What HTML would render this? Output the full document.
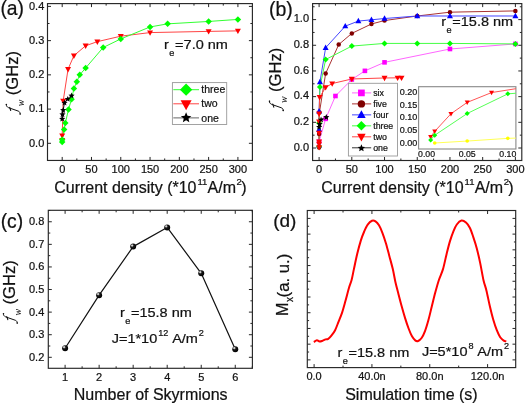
<!DOCTYPE html><html><head><meta charset="utf-8"><style>html,body{margin:0;padding:0;background:#fff;}body>svg{display:block;filter:blur(0.3px);}</style></head><body><svg width="525" height="404" viewBox="0 0 525 404" font-family="&quot;Liberation Sans&quot;, sans-serif">
<style>text{stroke:#111;stroke-width:0.22px;paint-order:stroke}</style>
<defs><radialGradient id="sph" cx="0.38" cy="0.36" r="0.62" fx="0.32" fy="0.3"><stop offset="0" stop-color="#fff"/><stop offset="0.18" stop-color="#bbb"/><stop offset="0.42" stop-color="#1a1a1a"/><stop offset="1" stop-color="#000"/></radialGradient></defs>
<rect width="525" height="404" fill="#fff"/>
<line x1="62.2" y1="160.45" x2="62.2" y2="156.95" stroke="#262626" stroke-width="1.0"/>
<line x1="62.2" y1="3.6" x2="62.2" y2="7.1" stroke="#262626" stroke-width="1.0"/>
<line x1="91.48" y1="160.45" x2="91.48" y2="156.95" stroke="#262626" stroke-width="1.0"/>
<line x1="91.48" y1="3.6" x2="91.48" y2="7.1" stroke="#262626" stroke-width="1.0"/>
<line x1="120.77" y1="160.45" x2="120.77" y2="156.95" stroke="#262626" stroke-width="1.0"/>
<line x1="120.77" y1="3.6" x2="120.77" y2="7.1" stroke="#262626" stroke-width="1.0"/>
<line x1="150.06" y1="160.45" x2="150.06" y2="156.95" stroke="#262626" stroke-width="1.0"/>
<line x1="150.06" y1="3.6" x2="150.06" y2="7.1" stroke="#262626" stroke-width="1.0"/>
<line x1="179.34" y1="160.45" x2="179.34" y2="156.95" stroke="#262626" stroke-width="1.0"/>
<line x1="179.34" y1="3.6" x2="179.34" y2="7.1" stroke="#262626" stroke-width="1.0"/>
<line x1="208.62" y1="160.45" x2="208.62" y2="156.95" stroke="#262626" stroke-width="1.0"/>
<line x1="208.62" y1="3.6" x2="208.62" y2="7.1" stroke="#262626" stroke-width="1.0"/>
<line x1="237.91" y1="160.45" x2="237.91" y2="156.95" stroke="#262626" stroke-width="1.0"/>
<line x1="237.91" y1="3.6" x2="237.91" y2="7.1" stroke="#262626" stroke-width="1.0"/>
<line x1="76.84" y1="160.45" x2="76.84" y2="158.45" stroke="#262626" stroke-width="1.0"/>
<line x1="76.84" y1="3.6" x2="76.84" y2="5.6" stroke="#262626" stroke-width="1.0"/>
<line x1="106.13" y1="160.45" x2="106.13" y2="158.45" stroke="#262626" stroke-width="1.0"/>
<line x1="106.13" y1="3.6" x2="106.13" y2="5.6" stroke="#262626" stroke-width="1.0"/>
<line x1="135.41" y1="160.45" x2="135.41" y2="158.45" stroke="#262626" stroke-width="1.0"/>
<line x1="135.41" y1="3.6" x2="135.41" y2="5.6" stroke="#262626" stroke-width="1.0"/>
<line x1="164.7" y1="160.45" x2="164.7" y2="158.45" stroke="#262626" stroke-width="1.0"/>
<line x1="164.7" y1="3.6" x2="164.7" y2="5.6" stroke="#262626" stroke-width="1.0"/>
<line x1="193.98" y1="160.45" x2="193.98" y2="158.45" stroke="#262626" stroke-width="1.0"/>
<line x1="193.98" y1="3.6" x2="193.98" y2="5.6" stroke="#262626" stroke-width="1.0"/>
<line x1="223.27" y1="160.45" x2="223.27" y2="158.45" stroke="#262626" stroke-width="1.0"/>
<line x1="223.27" y1="3.6" x2="223.27" y2="5.6" stroke="#262626" stroke-width="1.0"/>
<line x1="47.5" y1="143.3" x2="51" y2="143.3" stroke="#262626" stroke-width="1.0"/>
<line x1="252.4" y1="143.3" x2="248.9" y2="143.3" stroke="#262626" stroke-width="1.0"/>
<line x1="47.5" y1="109.08" x2="51" y2="109.08" stroke="#262626" stroke-width="1.0"/>
<line x1="252.4" y1="109.08" x2="248.9" y2="109.08" stroke="#262626" stroke-width="1.0"/>
<line x1="47.5" y1="74.85" x2="51" y2="74.85" stroke="#262626" stroke-width="1.0"/>
<line x1="252.4" y1="74.85" x2="248.9" y2="74.85" stroke="#262626" stroke-width="1.0"/>
<line x1="47.5" y1="40.63" x2="51" y2="40.63" stroke="#262626" stroke-width="1.0"/>
<line x1="252.4" y1="40.63" x2="248.9" y2="40.63" stroke="#262626" stroke-width="1.0"/>
<line x1="47.5" y1="6.4" x2="51" y2="6.4" stroke="#262626" stroke-width="1.0"/>
<line x1="252.4" y1="6.4" x2="248.9" y2="6.4" stroke="#262626" stroke-width="1.0"/>
<line x1="47.5" y1="126.19" x2="49.5" y2="126.19" stroke="#262626" stroke-width="1.0"/>
<line x1="252.4" y1="126.19" x2="250.4" y2="126.19" stroke="#262626" stroke-width="1.0"/>
<line x1="47.5" y1="91.96" x2="49.5" y2="91.96" stroke="#262626" stroke-width="1.0"/>
<line x1="252.4" y1="91.96" x2="250.4" y2="91.96" stroke="#262626" stroke-width="1.0"/>
<line x1="47.5" y1="57.74" x2="49.5" y2="57.74" stroke="#262626" stroke-width="1.0"/>
<line x1="252.4" y1="57.74" x2="250.4" y2="57.74" stroke="#262626" stroke-width="1.0"/>
<line x1="47.5" y1="23.51" x2="49.5" y2="23.51" stroke="#262626" stroke-width="1.0"/>
<line x1="252.4" y1="23.51" x2="250.4" y2="23.51" stroke="#262626" stroke-width="1.0"/>
<rect x="47.5" y="3.6" width="204.9" height="156.85" fill="none" stroke="#262626" stroke-width="1.15"/>
<text x="62.2" y="172.7" font-size="11" text-anchor="middle" fill="#111" >0</text>
<text x="91.48" y="172.7" font-size="11" text-anchor="middle" fill="#111" >50</text>
<text x="120.77" y="172.7" font-size="11" text-anchor="middle" fill="#111" >100</text>
<text x="150.06" y="172.7" font-size="11" text-anchor="middle" fill="#111" >150</text>
<text x="179.34" y="172.7" font-size="11" text-anchor="middle" fill="#111" >200</text>
<text x="208.62" y="172.7" font-size="11" text-anchor="middle" fill="#111" >250</text>
<text x="237.91" y="172.7" font-size="11" text-anchor="middle" fill="#111" >300</text>
<text x="44.3" y="146.7" font-size="11" text-anchor="end" fill="#111" >0.0</text>
<text x="44.3" y="112.48" font-size="11" text-anchor="end" fill="#111" >0.1</text>
<text x="44.3" y="78.25" font-size="11" text-anchor="end" fill="#111" >0.2</text>
<text x="44.3" y="44.03" font-size="11" text-anchor="end" fill="#111" >0.3</text>
<text x="44.3" y="9.8" font-size="11" text-anchor="end" fill="#111" >0.4</text>
<text x="0.4" y="14.8" font-size="19.3" text-anchor="start" fill="#111" >(a)</text>
<text x="54.2" y="193.4" font-size="16" text-anchor="start" fill="#111" >Current density (*10<tspan font-size="9.5" dy="-8.3" dx="1">11</tspan><tspan dy="8.3" dx="0.2">A/m</tspan><tspan font-size="9.5" dy="-8.3" dx="0.5">2</tspan><tspan dy="8.3" dx="-0.6">)</tspan></text>
<g transform="translate(0,0)">
<g transform="translate(18.3,115) rotate(-90)"><text x="19.8" y="0" font-size="16.6" fill="#111">(GHz)</text><text x="8.8" y="5.9" font-size="10" font-family="&quot;Liberation Serif&quot;, serif" font-style="italic" fill="#111" style="stroke:none">w</text></g>
<path d="M6.3,104.4 C6.1,105.9 7,107 8.6,107.7 L18.3,111.1 C19.6,111.6 20.2,112.6 20.2,114" fill="none" stroke="#111" stroke-width="1.0" stroke-linecap="round"/>
<path d="M9.7,107.4 L10.7,110.5" fill="none" stroke="#111" stroke-width="1.1" stroke-linecap="round"/>
<circle cx="6.4" cy="104.5" r="0.75" fill="#111"/><circle cx="20.1" cy="113.9" r="0.75" fill="#111"/>
</g>
<g transform="translate(164,48.8) scale(1.075,1)"><text x="0" y="0" font-size="13.5" fill="#111">r<tspan font-size="8.5" dy="7" dx="0.5">e</tspan><tspan dy="-7" dx="0.6">=7.0 nm</tspan></text></g>
<polyline points="62.2,140.22 62.2,135.6 63.2,100.86 68.06,69.17 73.91,55.68 85.63,45.76 97.34,41.65 120.77,36.18 150.06,32.58 208.62,31.38 237.91,30.87" fill="none" stroke="#f44" stroke-width="1" stroke-linejoin="round"/>
<polyline points="62.2,142.1 62.2,139.71 64.13,129.61 65.3,123.11 68.53,109.42 71.57,99.15 73.91,88.54 76.84,81.7 79.77,74.85 85.63,68.01 103.2,47.47 120.77,38.91 150.06,26.94 167.63,23.85 208.62,21.46 237.91,19.41" fill="none" stroke="#3f3" stroke-width="1" stroke-linejoin="round"/>
<polygon points="59.2,138.06 65.2,138.06 62.2,143.46" fill="#f00"/>
<polygon points="59.2,133.44 65.2,133.44 62.2,138.84" fill="#f00"/>
<polygon points="60.2,98.7 66.2,98.7 63.2,104.1" fill="#f00"/>
<polygon points="65.06,67.01 71.06,67.01 68.06,72.41" fill="#f00"/>
<polygon points="70.91,53.52 76.91,53.52 73.91,58.92" fill="#f00"/>
<polygon points="82.63,43.6 88.63,43.6 85.63,49" fill="#f00"/>
<polygon points="94.34,39.49 100.34,39.49 97.34,44.89" fill="#f00"/>
<polygon points="117.77,34.02 123.77,34.02 120.77,39.42" fill="#f00"/>
<polygon points="147.06,30.42 153.06,30.42 150.06,35.82" fill="#f00"/>
<polygon points="205.62,29.22 211.62,29.22 208.62,34.62" fill="#f00"/>
<polygon points="234.91,28.71 240.91,28.71 237.91,34.11" fill="#f00"/>
<polygon points="62.2,138.85 65.45,142.1 62.2,145.35 58.95,142.1" fill="#0f0"/>
<polygon points="62.2,136.46 65.45,139.71 62.2,142.96 58.95,139.71" fill="#0f0"/>
<polygon points="64.13,126.36 67.38,129.61 64.13,132.86 60.88,129.61" fill="#0f0"/>
<polygon points="65.3,119.86 68.55,123.11 65.3,126.36 62.05,123.11" fill="#0f0"/>
<polygon points="68.53,106.17 71.78,109.42 68.53,112.67 65.28,109.42" fill="#0f0"/>
<polygon points="71.57,95.9 74.82,99.15 71.57,102.4 68.32,99.15" fill="#0f0"/>
<polygon points="73.91,85.29 77.16,88.54 73.91,91.79 70.66,88.54" fill="#0f0"/>
<polygon points="76.84,78.45 80.09,81.7 76.84,84.95 73.59,81.7" fill="#0f0"/>
<polygon points="79.77,71.6 83.02,74.85 79.77,78.1 76.52,74.85" fill="#0f0"/>
<polygon points="85.63,64.76 88.88,68.01 85.63,71.26 82.38,68.01" fill="#0f0"/>
<polygon points="103.2,44.22 106.45,47.47 103.2,50.72 99.95,47.47" fill="#0f0"/>
<polygon points="120.77,35.66 124.02,38.91 120.77,42.16 117.52,38.91" fill="#0f0"/>
<polygon points="150.06,23.69 153.31,26.94 150.06,30.19 146.81,26.94" fill="#0f0"/>
<polygon points="167.63,20.6 170.88,23.85 167.63,27.1 164.38,23.85" fill="#0f0"/>
<polygon points="208.62,18.21 211.88,21.46 208.62,24.71 205.38,21.46" fill="#0f0"/>
<polygon points="237.91,16.16 241.16,19.41 237.91,22.66 234.66,19.41" fill="#0f0"/>
<polyline points="62.2,118.66 62.49,114.21 63.2,109.93 64.54,102.57 67.71,98.81 71.57,95.39" fill="none" stroke="#111" stroke-width="1" stroke-linejoin="round"/>
<polygon points="62.2,115.73 63.06,117.8 65.29,117.98 63.59,119.43 64.11,121.61 62.2,120.45 60.29,121.61 60.81,119.43 59.11,117.98 61.34,117.8" fill="#000"/>
<polygon points="62.49,111.28 63.35,113.35 65.58,113.53 63.88,114.99 64.4,117.16 62.49,116 60.58,117.16 61.1,114.99 59.4,113.53 61.63,113.35" fill="#000"/>
<polygon points="63.2,107.01 64.06,109.07 66.29,109.25 64.59,110.71 65.11,112.88 63.2,111.72 61.29,112.88 61.8,110.71 60.1,109.25 62.34,109.07" fill="#000"/>
<polygon points="64.54,99.65 65.4,101.71 67.63,101.89 65.93,103.35 66.45,105.53 64.54,104.36 62.63,105.53 63.15,103.35 61.45,101.89 63.68,101.71" fill="#000"/>
<polygon points="67.71,95.88 68.57,97.95 70.8,98.13 69.1,99.58 69.62,101.76 67.71,100.6 65.8,101.76 66.31,99.58 64.61,98.13 66.85,97.95" fill="#000"/>
<polygon points="71.57,92.46 72.43,94.53 74.66,94.71 72.96,96.16 73.48,98.34 71.57,97.17 69.66,98.34 70.18,96.16 68.48,94.71 70.71,94.53" fill="#000"/>
<rect x="172.4" y="82.6" width="54.3" height="41.9" fill="#fff" stroke="#999" stroke-width="0.9"/>
<line x1="173.3" y1="89.7" x2="199" y2="89.7" stroke="#3f3" stroke-width="1"/>
<polygon points="186.1,83.55 192.25,89.7 186.1,95.85 179.95,89.7" fill="#0f0"/>
<text x="201.3" y="93.35" font-size="10.5" text-anchor="start" fill="#111" >three</text>
<line x1="173.3" y1="103.8" x2="199" y2="103.8" stroke="#f44" stroke-width="1"/>
<polygon points="180.6,100.34 191.6,100.34 186.1,110.24" fill="#f00"/>
<text x="201.3" y="107.45" font-size="10.5" text-anchor="start" fill="#111" >two</text>
<line x1="173.3" y1="117.9" x2="199" y2="117.9" stroke="#666" stroke-width="1"/>
<polygon points="186.1,112.35 187.55,115.85 191.33,116.15 188.45,118.61 189.33,122.3 186.1,120.33 182.87,122.3 183.75,118.61 180.87,116.15 184.65,115.85" fill="#000"/>
<text x="201.3" y="121.55" font-size="10.5" text-anchor="start" fill="#111" >one</text>
<line x1="319.1" y1="160.5" x2="319.1" y2="157" stroke="#262626" stroke-width="1.0"/>
<line x1="319.1" y1="3.6" x2="319.1" y2="7.1" stroke="#262626" stroke-width="1.0"/>
<line x1="351.81" y1="160.5" x2="351.81" y2="157" stroke="#262626" stroke-width="1.0"/>
<line x1="351.81" y1="3.6" x2="351.81" y2="7.1" stroke="#262626" stroke-width="1.0"/>
<line x1="384.53" y1="160.5" x2="384.53" y2="157" stroke="#262626" stroke-width="1.0"/>
<line x1="384.53" y1="3.6" x2="384.53" y2="7.1" stroke="#262626" stroke-width="1.0"/>
<line x1="417.25" y1="160.5" x2="417.25" y2="157" stroke="#262626" stroke-width="1.0"/>
<line x1="417.25" y1="3.6" x2="417.25" y2="7.1" stroke="#262626" stroke-width="1.0"/>
<line x1="449.96" y1="160.5" x2="449.96" y2="157" stroke="#262626" stroke-width="1.0"/>
<line x1="449.96" y1="3.6" x2="449.96" y2="7.1" stroke="#262626" stroke-width="1.0"/>
<line x1="482.68" y1="160.5" x2="482.68" y2="157" stroke="#262626" stroke-width="1.0"/>
<line x1="482.68" y1="3.6" x2="482.68" y2="7.1" stroke="#262626" stroke-width="1.0"/>
<line x1="515.39" y1="160.5" x2="515.39" y2="157" stroke="#262626" stroke-width="1.0"/>
<line x1="515.39" y1="3.6" x2="515.39" y2="7.1" stroke="#262626" stroke-width="1.0"/>
<line x1="335.46" y1="160.5" x2="335.46" y2="158.5" stroke="#262626" stroke-width="1.0"/>
<line x1="335.46" y1="3.6" x2="335.46" y2="5.6" stroke="#262626" stroke-width="1.0"/>
<line x1="368.17" y1="160.5" x2="368.17" y2="158.5" stroke="#262626" stroke-width="1.0"/>
<line x1="368.17" y1="3.6" x2="368.17" y2="5.6" stroke="#262626" stroke-width="1.0"/>
<line x1="400.89" y1="160.5" x2="400.89" y2="158.5" stroke="#262626" stroke-width="1.0"/>
<line x1="400.89" y1="3.6" x2="400.89" y2="5.6" stroke="#262626" stroke-width="1.0"/>
<line x1="433.6" y1="160.5" x2="433.6" y2="158.5" stroke="#262626" stroke-width="1.0"/>
<line x1="433.6" y1="3.6" x2="433.6" y2="5.6" stroke="#262626" stroke-width="1.0"/>
<line x1="466.32" y1="160.5" x2="466.32" y2="158.5" stroke="#262626" stroke-width="1.0"/>
<line x1="466.32" y1="3.6" x2="466.32" y2="5.6" stroke="#262626" stroke-width="1.0"/>
<line x1="499.03" y1="160.5" x2="499.03" y2="158.5" stroke="#262626" stroke-width="1.0"/>
<line x1="499.03" y1="3.6" x2="499.03" y2="5.6" stroke="#262626" stroke-width="1.0"/>
<line x1="312.6" y1="148" x2="316.1" y2="148" stroke="#262626" stroke-width="1.0"/>
<line x1="521.8" y1="148" x2="518.3" y2="148" stroke="#262626" stroke-width="1.0"/>
<line x1="312.6" y1="122.32" x2="316.1" y2="122.32" stroke="#262626" stroke-width="1.0"/>
<line x1="521.8" y1="122.32" x2="518.3" y2="122.32" stroke="#262626" stroke-width="1.0"/>
<line x1="312.6" y1="96.64" x2="316.1" y2="96.64" stroke="#262626" stroke-width="1.0"/>
<line x1="521.8" y1="96.64" x2="518.3" y2="96.64" stroke="#262626" stroke-width="1.0"/>
<line x1="312.6" y1="70.96" x2="316.1" y2="70.96" stroke="#262626" stroke-width="1.0"/>
<line x1="521.8" y1="70.96" x2="518.3" y2="70.96" stroke="#262626" stroke-width="1.0"/>
<line x1="312.6" y1="45.28" x2="316.1" y2="45.28" stroke="#262626" stroke-width="1.0"/>
<line x1="521.8" y1="45.28" x2="518.3" y2="45.28" stroke="#262626" stroke-width="1.0"/>
<line x1="312.6" y1="19.6" x2="316.1" y2="19.6" stroke="#262626" stroke-width="1.0"/>
<line x1="521.8" y1="19.6" x2="518.3" y2="19.6" stroke="#262626" stroke-width="1.0"/>
<line x1="312.6" y1="135.16" x2="314.6" y2="135.16" stroke="#262626" stroke-width="1.0"/>
<line x1="521.8" y1="135.16" x2="519.8" y2="135.16" stroke="#262626" stroke-width="1.0"/>
<line x1="312.6" y1="109.48" x2="314.6" y2="109.48" stroke="#262626" stroke-width="1.0"/>
<line x1="521.8" y1="109.48" x2="519.8" y2="109.48" stroke="#262626" stroke-width="1.0"/>
<line x1="312.6" y1="83.8" x2="314.6" y2="83.8" stroke="#262626" stroke-width="1.0"/>
<line x1="521.8" y1="83.8" x2="519.8" y2="83.8" stroke="#262626" stroke-width="1.0"/>
<line x1="312.6" y1="58.12" x2="314.6" y2="58.12" stroke="#262626" stroke-width="1.0"/>
<line x1="521.8" y1="58.12" x2="519.8" y2="58.12" stroke="#262626" stroke-width="1.0"/>
<line x1="312.6" y1="32.44" x2="314.6" y2="32.44" stroke="#262626" stroke-width="1.0"/>
<line x1="521.8" y1="32.44" x2="519.8" y2="32.44" stroke="#262626" stroke-width="1.0"/>
<line x1="312.6" y1="6.76" x2="314.6" y2="6.76" stroke="#262626" stroke-width="1.0"/>
<line x1="521.8" y1="6.76" x2="519.8" y2="6.76" stroke="#262626" stroke-width="1.0"/>
<rect x="312.6" y="3.6" width="209.2" height="156.9" fill="none" stroke="#262626" stroke-width="1.15"/>
<text x="319.1" y="172.7" font-size="11" text-anchor="middle" fill="#111" >0</text>
<text x="351.81" y="172.7" font-size="11" text-anchor="middle" fill="#111" >50</text>
<text x="384.53" y="172.7" font-size="11" text-anchor="middle" fill="#111" >100</text>
<text x="417.25" y="172.7" font-size="11" text-anchor="middle" fill="#111" >150</text>
<text x="449.96" y="172.7" font-size="11" text-anchor="middle" fill="#111" >200</text>
<text x="482.68" y="172.7" font-size="11" text-anchor="middle" fill="#111" >250</text>
<text x="515.39" y="172.7" font-size="11" text-anchor="middle" fill="#111" >300</text>
<text x="309" y="150.7" font-size="11" text-anchor="end" fill="#111" >0.0</text>
<text x="309" y="125.02" font-size="11" text-anchor="end" fill="#111" >0.2</text>
<text x="309" y="99.34" font-size="11" text-anchor="end" fill="#111" >0.4</text>
<text x="309" y="73.66" font-size="11" text-anchor="end" fill="#111" >0.6</text>
<text x="309" y="47.98" font-size="11" text-anchor="end" fill="#111" >0.8</text>
<text x="309" y="22.3" font-size="11" text-anchor="end" fill="#111" >1.0</text>
<text x="269" y="16" font-size="19.5" text-anchor="start" fill="#111" >(b)</text>
<text x="321.3" y="193.4" font-size="16" text-anchor="start" fill="#111" >Current density (*10<tspan font-size="9.5" dy="-8.3" dx="1">11</tspan><tspan dy="8.3" dx="0.2">A/m</tspan><tspan font-size="9.5" dy="-8.3" dx="0.5">2</tspan><tspan dy="8.3" dx="-0.6">)</tspan></text>
<g transform="translate(263.1,-3.3)">
<g transform="translate(18.3,115) rotate(-90)"><text x="19.8" y="0" font-size="16.6" fill="#111">(GHz)</text><text x="8.8" y="5.9" font-size="10" font-family="&quot;Liberation Serif&quot;, serif" font-style="italic" fill="#111" style="stroke:none">w</text></g>
<path d="M6.3,104.4 C6.1,105.9 7,107 8.6,107.7 L18.3,111.1 C19.6,111.6 20.2,112.6 20.2,114" fill="none" stroke="#111" stroke-width="1.0" stroke-linecap="round"/>
<path d="M9.7,107.4 L10.7,110.5" fill="none" stroke="#111" stroke-width="1.1" stroke-linecap="round"/>
<circle cx="6.4" cy="104.5" r="0.75" fill="#111"/><circle cx="20.1" cy="113.9" r="0.75" fill="#111"/>
</g>
<g transform="translate(441.2,26.3) scale(1.075,1)"><text x="0" y="0" font-size="13.5" fill="#111">r<tspan font-size="8.5" dy="7" dx="0.5">e</tspan><tspan dy="-7" dx="0.6">=15.8 nm</tspan></text></g>
<polyline points="319.1,141.72 325.64,118.86 335.46,96 351.81,79.49 364.9,70.85 384.53,62.35 449.96,49.01 515.39,43.93" fill="none" stroke="#f6f" stroke-width="1" stroke-linejoin="round"/>
<polyline points="319.1,147.56 319.1,134.1 319.43,112.51 325.64,73.52 338.73,44.57 351.81,33.39 371.44,23.99 384.53,20.56 417.25,15.99 449.96,12.18 515.39,10.91" fill="none" stroke="#a33" stroke-width="1" stroke-linejoin="round"/>
<polyline points="319.1,145.28 319.1,129.66 319.1,111.24 319.95,82.03 325.64,47.74 345.27,26.15 358.36,21.07 371.44,19.8 384.53,18.53 417.25,15.99 449.96,15.99 515.39,15.99" fill="none" stroke="#44f" stroke-width="1" stroke-linejoin="round"/>
<polyline points="319.1,146.55 319.1,123.05 319.95,87.11 325.64,59.55 351.81,46.09 384.53,43.42 417.25,43.42 449.96,43.42 515.39,43.93" fill="none" stroke="#4f4" stroke-width="1" stroke-linejoin="round"/>
<polyline points="319.1,147.31 319.1,144.01 319.1,141.72 319.1,132.83 319.1,121.65 319.1,113.78 319.62,97.27 325.64,87.36 332.19,83.55 351.81,78.98 384.53,77.97 397.62,77.84 401.54,77.84" fill="none" stroke="#f44" stroke-width="1" stroke-linejoin="round"/>
<polyline points="319.1,126.73 319.62,123.94 321.06,119.5 326.3,116.96" fill="none" stroke="#222" stroke-width="1" stroke-linejoin="round"/>
<rect x="316.8" y="139.42" width="4.6" height="4.6" fill="#f0f"/>
<rect x="323.34" y="116.56" width="4.6" height="4.6" fill="#f0f"/>
<rect x="333.16" y="93.7" width="4.6" height="4.6" fill="#f0f"/>
<rect x="349.51" y="77.19" width="4.6" height="4.6" fill="#f0f"/>
<rect x="362.6" y="68.55" width="4.6" height="4.6" fill="#f0f"/>
<rect x="382.23" y="60.05" width="4.6" height="4.6" fill="#f0f"/>
<rect x="447.66" y="46.71" width="4.6" height="4.6" fill="#f0f"/>
<rect x="513.09" y="41.63" width="4.6" height="4.6" fill="#f0f"/>
<circle cx="319.1" cy="147.56" r="2.25" fill="#800000"/>
<circle cx="319.1" cy="134.1" r="2.25" fill="#800000"/>
<circle cx="319.43" cy="112.51" r="2.25" fill="#800000"/>
<circle cx="325.64" cy="73.52" r="2.25" fill="#800000"/>
<circle cx="338.73" cy="44.57" r="2.25" fill="#800000"/>
<circle cx="351.81" cy="33.39" r="2.25" fill="#800000"/>
<circle cx="371.44" cy="23.99" r="2.25" fill="#800000"/>
<circle cx="384.53" cy="20.56" r="2.25" fill="#800000"/>
<circle cx="417.25" cy="15.99" r="2.25" fill="#800000"/>
<circle cx="449.96" cy="12.18" r="2.25" fill="#800000"/>
<circle cx="515.39" cy="10.91" r="2.25" fill="#800000"/>
<polygon points="316.1,147.44 322.1,147.44 319.1,142.04" fill="#00f"/>
<polygon points="316.1,131.81 322.1,131.81 319.1,126.42" fill="#00f"/>
<polygon points="316.1,113.4 322.1,113.4 319.1,108" fill="#00f"/>
<polygon points="316.95,84.19 322.95,84.19 319.95,78.79" fill="#00f"/>
<polygon points="322.64,49.9 328.64,49.9 325.64,44.5" fill="#00f"/>
<polygon points="342.27,28.31 348.27,28.31 345.27,22.91" fill="#00f"/>
<polygon points="355.36,23.23 361.36,23.23 358.36,17.83" fill="#00f"/>
<polygon points="368.44,21.96 374.44,21.96 371.44,16.56" fill="#00f"/>
<polygon points="381.53,20.69 387.53,20.69 384.53,15.29" fill="#00f"/>
<polygon points="414.25,18.15 420.25,18.15 417.25,12.75" fill="#00f"/>
<polygon points="446.96,18.15 452.96,18.15 449.96,12.75" fill="#00f"/>
<polygon points="512.39,18.15 518.39,18.15 515.39,12.75" fill="#00f"/>
<polygon points="319.1,143.55 322.1,146.55 319.1,149.55 316.1,146.55" fill="#0f0"/>
<polygon points="319.1,120.05 322.1,123.05 319.1,126.05 316.1,123.05" fill="#0f0"/>
<polygon points="319.95,84.11 322.95,87.11 319.95,90.11 316.95,87.11" fill="#0f0"/>
<polygon points="325.64,56.55 328.64,59.55 325.64,62.55 322.64,59.55" fill="#0f0"/>
<polygon points="351.81,43.09 354.81,46.09 351.81,49.09 348.81,46.09" fill="#0f0"/>
<polygon points="384.53,40.42 387.53,43.42 384.53,46.42 381.53,43.42" fill="#0f0"/>
<polygon points="417.25,40.42 420.25,43.42 417.25,46.42 414.25,43.42" fill="#0f0"/>
<polygon points="449.96,40.42 452.96,43.42 449.96,46.42 446.96,43.42" fill="#0f0"/>
<polygon points="515.39,40.93 518.39,43.93 515.39,46.93 512.39,43.93" fill="#0f0"/>
<polygon points="316.1,145.15 322.1,145.15 319.1,150.55" fill="#f00"/>
<polygon points="316.1,141.85 322.1,141.85 319.1,147.25" fill="#f00"/>
<polygon points="316.1,139.56 322.1,139.56 319.1,144.96" fill="#f00"/>
<polygon points="316.1,130.67 322.1,130.67 319.1,136.07" fill="#f00"/>
<polygon points="316.1,119.49 322.1,119.49 319.1,124.89" fill="#f00"/>
<polygon points="316.1,111.62 322.1,111.62 319.1,117.02" fill="#f00"/>
<polygon points="316.62,95.11 322.62,95.11 319.62,100.51" fill="#f00"/>
<polygon points="322.64,85.2 328.64,85.2 325.64,90.6" fill="#f00"/>
<polygon points="329.19,81.39 335.19,81.39 332.19,86.79" fill="#f00"/>
<polygon points="348.81,76.82 354.81,76.82 351.81,82.22" fill="#f00"/>
<polygon points="381.53,75.81 387.53,75.81 384.53,81.21" fill="#f00"/>
<polygon points="394.62,75.68 400.62,75.68 397.62,81.08" fill="#f00"/>
<polygon points="398.54,75.68 404.54,75.68 401.54,81.08" fill="#f00"/>
<polygon points="319.1,123.81 319.96,125.88 322.19,126.05 320.49,127.51 321.01,129.69 319.1,128.52 317.19,129.69 317.71,127.51 316.01,126.05 318.24,125.88" fill="#000"/>
<polygon points="319.62,121.02 320.48,123.08 322.71,123.26 321.01,124.72 321.53,126.89 319.62,125.73 317.71,126.89 318.23,124.72 316.53,123.26 318.76,123.08" fill="#000"/>
<polygon points="321.06,116.57 321.92,118.64 324.15,118.82 322.45,120.27 322.97,122.45 321.06,121.28 319.15,122.45 319.67,120.27 317.97,118.82 320.2,118.64" fill="#000"/>
<polygon points="326.3,114.03 327.16,116.1 329.39,116.28 327.69,117.73 328.21,119.91 326.3,118.74 324.39,119.91 324.91,117.73 323.21,116.28 325.44,116.1" fill="#000"/>
<rect x="348.4" y="83.3" width="49.1" height="72.7" fill="#fff" stroke="#999" stroke-width="0.9"/>
<line x1="352" y1="92.9" x2="371.2" y2="92.9" stroke="#f6f" stroke-width="1"/>
<rect x="358.05" y="89.55" width="6.7" height="6.7" fill="#f0f"/>
<text x="373.2" y="96.2" font-size="8.8" text-anchor="start" fill="#111" >six</text>
<line x1="352" y1="103.88" x2="371.2" y2="103.88" stroke="#a33" stroke-width="1"/>
<circle cx="361.4" cy="103.88" r="3.7" fill="#800000"/>
<text x="373.2" y="107.18" font-size="8.8" text-anchor="start" fill="#111" >five</text>
<line x1="352" y1="114.86" x2="371.2" y2="114.86" stroke="#44f" stroke-width="1"/>
<polygon points="357.15,117.92 365.65,117.92 361.4,110.27" fill="#00f"/>
<text x="373.2" y="118.16" font-size="8.8" text-anchor="start" fill="#111" >four</text>
<line x1="352" y1="125.84" x2="371.2" y2="125.84" stroke="#4f4" stroke-width="1"/>
<polygon points="361.4,121.09 366.15,125.84 361.4,130.59 356.65,125.84" fill="#0f0"/>
<text x="373.2" y="129.14" font-size="8.8" text-anchor="start" fill="#111" >three</text>
<line x1="352" y1="136.82" x2="371.2" y2="136.82" stroke="#f44" stroke-width="1"/>
<polygon points="357.15,133.76 365.65,133.76 361.4,141.41" fill="#f00"/>
<text x="373.2" y="140.12" font-size="8.8" text-anchor="start" fill="#111" >two</text>
<line x1="352" y1="147.8" x2="371.2" y2="147.8" stroke="#333" stroke-width="1"/>
<polygon points="361.4,144.29 362.43,146.77 365.11,146.98 363.07,148.73 363.69,151.35 361.4,149.94 359.11,151.35 359.73,148.73 357.69,146.98 360.37,146.77" fill="#000"/>
<text x="373.2" y="151.1" font-size="8.8" text-anchor="start" fill="#111" >one</text>
<rect x="418.6" y="86.7" width="97.3" height="62.3" fill="#fff" stroke="#888" stroke-width="1.1"/>
<text x="417.3" y="146.3" font-size="9" text-anchor="end" fill="#111" textLength="17.6" lengthAdjust="spacingAndGlyphs">0.00</text>
<text x="417.3" y="133.37" font-size="9" text-anchor="end" fill="#111" textLength="17.6" lengthAdjust="spacingAndGlyphs">0.05</text>
<text x="417.3" y="120.44" font-size="9" text-anchor="end" fill="#111" textLength="17.6" lengthAdjust="spacingAndGlyphs">0.10</text>
<text x="417.3" y="107.51" font-size="9" text-anchor="end" fill="#111" textLength="17.6" lengthAdjust="spacingAndGlyphs">0.15</text>
<text x="417.3" y="94.58" font-size="9" text-anchor="end" fill="#111" textLength="17.6" lengthAdjust="spacingAndGlyphs">0.20</text>
<text x="426.6" y="157.1" font-size="9" text-anchor="middle" fill="#111" textLength="17" lengthAdjust="spacingAndGlyphs">0.00</text>
<text x="467.2" y="157.1" font-size="9" text-anchor="middle" fill="#111" textLength="17" lengthAdjust="spacingAndGlyphs">0.05</text>
<text x="507.8" y="157.1" font-size="9" text-anchor="middle" fill="#111" textLength="17" lengthAdjust="spacingAndGlyphs">0.10</text>
<svg x="418.6" y="86.7" width="97.3" height="62.3" overflow="hidden">
<polyline points="12.06,50.09 16.12,44.66 32.36,27.08 48.6,15.7 72.96,5.87 105.44,0.7" fill="none" stroke="#f55" stroke-width="1" stroke-linejoin="round"/>
<polyline points="12.06,53.2 16.12,48.54 48.6,26.82 89.2,7.17 105.44,5.87" fill="none" stroke="#5f5" stroke-width="1" stroke-linejoin="round"/>
<polyline points="16.12,56.3 48.6,54.36 89.2,51.65 105.44,51.13" fill="none" stroke="#ff5" stroke-width="1" stroke-linejoin="round"/>
<polygon points="9.56,48.29 14.56,48.29 12.06,52.79" fill="#f00"/>
<polygon points="13.62,42.86 18.62,42.86 16.12,47.36" fill="#f00"/>
<polygon points="29.86,25.28 34.86,25.28 32.36,29.78" fill="#f00"/>
<polygon points="46.1,13.9 51.1,13.9 48.6,18.4" fill="#f00"/>
<polygon points="70.46,4.07 75.46,4.07 72.96,8.57" fill="#f00"/>
<polygon points="12.06,50.7 14.56,53.2 12.06,55.7 9.56,53.2" fill="#0f0"/>
<polygon points="16.12,46.04 18.62,48.54 16.12,51.04 13.62,48.54" fill="#0f0"/>
<polygon points="48.6,24.32 51.1,26.82 48.6,29.32 46.1,26.82" fill="#0f0"/>
<polygon points="89.2,4.67 91.7,7.17 89.2,9.67 86.7,7.17" fill="#0f0"/>
<circle cx="16.12" cy="56.3" r="1.8" fill="#ff0"/>
<circle cx="48.6" cy="54.36" r="1.8" fill="#ff0"/>
<circle cx="89.2" cy="51.65" r="1.8" fill="#ff0"/>
</svg>
<line x1="65.1" y1="368.3" x2="65.1" y2="364.8" stroke="#262626" stroke-width="1.0"/>
<line x1="65.1" y1="210.3" x2="65.1" y2="213.8" stroke="#262626" stroke-width="1.0"/>
<line x1="99.13" y1="368.3" x2="99.13" y2="364.8" stroke="#262626" stroke-width="1.0"/>
<line x1="99.13" y1="210.3" x2="99.13" y2="213.8" stroke="#262626" stroke-width="1.0"/>
<line x1="133.16" y1="368.3" x2="133.16" y2="364.8" stroke="#262626" stroke-width="1.0"/>
<line x1="133.16" y1="210.3" x2="133.16" y2="213.8" stroke="#262626" stroke-width="1.0"/>
<line x1="167.19" y1="368.3" x2="167.19" y2="364.8" stroke="#262626" stroke-width="1.0"/>
<line x1="167.19" y1="210.3" x2="167.19" y2="213.8" stroke="#262626" stroke-width="1.0"/>
<line x1="201.22" y1="368.3" x2="201.22" y2="364.8" stroke="#262626" stroke-width="1.0"/>
<line x1="201.22" y1="210.3" x2="201.22" y2="213.8" stroke="#262626" stroke-width="1.0"/>
<line x1="235.25" y1="368.3" x2="235.25" y2="364.8" stroke="#262626" stroke-width="1.0"/>
<line x1="235.25" y1="210.3" x2="235.25" y2="213.8" stroke="#262626" stroke-width="1.0"/>
<line x1="82.11" y1="368.3" x2="82.11" y2="366.3" stroke="#262626" stroke-width="1.0"/>
<line x1="82.11" y1="210.3" x2="82.11" y2="212.3" stroke="#262626" stroke-width="1.0"/>
<line x1="116.14" y1="368.3" x2="116.14" y2="366.3" stroke="#262626" stroke-width="1.0"/>
<line x1="116.14" y1="210.3" x2="116.14" y2="212.3" stroke="#262626" stroke-width="1.0"/>
<line x1="150.18" y1="368.3" x2="150.18" y2="366.3" stroke="#262626" stroke-width="1.0"/>
<line x1="150.18" y1="210.3" x2="150.18" y2="212.3" stroke="#262626" stroke-width="1.0"/>
<line x1="184.2" y1="368.3" x2="184.2" y2="366.3" stroke="#262626" stroke-width="1.0"/>
<line x1="184.2" y1="210.3" x2="184.2" y2="212.3" stroke="#262626" stroke-width="1.0"/>
<line x1="218.23" y1="368.3" x2="218.23" y2="366.3" stroke="#262626" stroke-width="1.0"/>
<line x1="218.23" y1="210.3" x2="218.23" y2="212.3" stroke="#262626" stroke-width="1.0"/>
<line x1="252.27" y1="368.3" x2="252.27" y2="366.3" stroke="#262626" stroke-width="1.0"/>
<line x1="252.27" y1="210.3" x2="252.27" y2="212.3" stroke="#262626" stroke-width="1.0"/>
<line x1="48.3" y1="357.3" x2="51.8" y2="357.3" stroke="#262626" stroke-width="1.0"/>
<line x1="252.4" y1="357.3" x2="248.9" y2="357.3" stroke="#262626" stroke-width="1.0"/>
<line x1="48.3" y1="334.71" x2="51.8" y2="334.71" stroke="#262626" stroke-width="1.0"/>
<line x1="252.4" y1="334.71" x2="248.9" y2="334.71" stroke="#262626" stroke-width="1.0"/>
<line x1="48.3" y1="312.12" x2="51.8" y2="312.12" stroke="#262626" stroke-width="1.0"/>
<line x1="252.4" y1="312.12" x2="248.9" y2="312.12" stroke="#262626" stroke-width="1.0"/>
<line x1="48.3" y1="289.53" x2="51.8" y2="289.53" stroke="#262626" stroke-width="1.0"/>
<line x1="252.4" y1="289.53" x2="248.9" y2="289.53" stroke="#262626" stroke-width="1.0"/>
<line x1="48.3" y1="266.94" x2="51.8" y2="266.94" stroke="#262626" stroke-width="1.0"/>
<line x1="252.4" y1="266.94" x2="248.9" y2="266.94" stroke="#262626" stroke-width="1.0"/>
<line x1="48.3" y1="244.35" x2="51.8" y2="244.35" stroke="#262626" stroke-width="1.0"/>
<line x1="252.4" y1="244.35" x2="248.9" y2="244.35" stroke="#262626" stroke-width="1.0"/>
<line x1="48.3" y1="221.76" x2="51.8" y2="221.76" stroke="#262626" stroke-width="1.0"/>
<line x1="252.4" y1="221.76" x2="248.9" y2="221.76" stroke="#262626" stroke-width="1.0"/>
<line x1="48.3" y1="346" x2="50.3" y2="346" stroke="#262626" stroke-width="1.0"/>
<line x1="252.4" y1="346" x2="250.4" y2="346" stroke="#262626" stroke-width="1.0"/>
<line x1="48.3" y1="323.42" x2="50.3" y2="323.42" stroke="#262626" stroke-width="1.0"/>
<line x1="252.4" y1="323.42" x2="250.4" y2="323.42" stroke="#262626" stroke-width="1.0"/>
<line x1="48.3" y1="300.82" x2="50.3" y2="300.82" stroke="#262626" stroke-width="1.0"/>
<line x1="252.4" y1="300.82" x2="250.4" y2="300.82" stroke="#262626" stroke-width="1.0"/>
<line x1="48.3" y1="278.24" x2="50.3" y2="278.24" stroke="#262626" stroke-width="1.0"/>
<line x1="252.4" y1="278.24" x2="250.4" y2="278.24" stroke="#262626" stroke-width="1.0"/>
<line x1="48.3" y1="255.65" x2="50.3" y2="255.65" stroke="#262626" stroke-width="1.0"/>
<line x1="252.4" y1="255.65" x2="250.4" y2="255.65" stroke="#262626" stroke-width="1.0"/>
<line x1="48.3" y1="233.06" x2="50.3" y2="233.06" stroke="#262626" stroke-width="1.0"/>
<line x1="252.4" y1="233.06" x2="250.4" y2="233.06" stroke="#262626" stroke-width="1.0"/>
<line x1="48.3" y1="210.47" x2="50.3" y2="210.47" stroke="#262626" stroke-width="1.0"/>
<line x1="252.4" y1="210.47" x2="250.4" y2="210.47" stroke="#262626" stroke-width="1.0"/>
<rect x="48.3" y="210.3" width="204.1" height="158" fill="none" stroke="#262626" stroke-width="1.15"/>
<text x="65.1" y="381.3" font-size="11" text-anchor="middle" fill="#111" >1</text>
<text x="99.13" y="381.3" font-size="11" text-anchor="middle" fill="#111" >2</text>
<text x="133.16" y="381.3" font-size="11" text-anchor="middle" fill="#111" >3</text>
<text x="167.19" y="381.3" font-size="11" text-anchor="middle" fill="#111" >4</text>
<text x="201.22" y="381.3" font-size="11" text-anchor="middle" fill="#111" >5</text>
<text x="235.25" y="381.3" font-size="11" text-anchor="middle" fill="#111" >6</text>
<text x="44.3" y="360.8" font-size="11" text-anchor="end" fill="#111" >0.2</text>
<text x="44.3" y="338.21" font-size="11" text-anchor="end" fill="#111" >0.3</text>
<text x="44.3" y="315.62" font-size="11" text-anchor="end" fill="#111" >0.4</text>
<text x="44.3" y="293.03" font-size="11" text-anchor="end" fill="#111" >0.5</text>
<text x="44.3" y="270.44" font-size="11" text-anchor="end" fill="#111" >0.6</text>
<text x="44.3" y="247.85" font-size="11" text-anchor="end" fill="#111" >0.7</text>
<text x="44.3" y="225.26" font-size="11" text-anchor="end" fill="#111" >0.8</text>
<text x="0.7" y="227.9" font-size="19.3" text-anchor="start" fill="#111" >(c)</text>
<text x="73.8" y="399.8" font-size="16" text-anchor="start" fill="#111" >Number of Skyrmions</text>
<g transform="translate(-2.9,209.2)">
<g transform="translate(18.3,115) rotate(-90)"><text x="19.8" y="0" font-size="16.6" fill="#111">(GHz)</text><text x="8.8" y="5.9" font-size="10" font-family="&quot;Liberation Serif&quot;, serif" font-style="italic" fill="#111" style="stroke:none">w</text></g>
<path d="M6.3,104.4 C6.1,105.9 7,107 8.6,107.7 L18.3,111.1 C19.6,111.6 20.2,112.6 20.2,114" fill="none" stroke="#111" stroke-width="1.0" stroke-linecap="round"/>
<path d="M9.7,107.4 L10.7,110.5" fill="none" stroke="#111" stroke-width="1.1" stroke-linecap="round"/>
<circle cx="6.4" cy="104.5" r="0.75" fill="#111"/><circle cx="20.1" cy="113.9" r="0.75" fill="#111"/>
</g>
<g transform="translate(119.9,316.6) scale(1.075,1)"><text x="0" y="0" font-size="13.5" fill="#111">r<tspan font-size="8.5" dy="7" dx="0.5">e</tspan><tspan dy="-7" dx="0.6">=15.8 nm</tspan></text></g>
<g transform="translate(111.7,342.8) scale(1.075,1)"><text x="0" y="0" font-size="13.5" fill="#111">J=1*10<tspan font-size="8.5" dy="-6.8" dx="0.9">12</tspan><tspan dy="6.8" dx="0.5"> A/m</tspan><tspan font-size="8.5" dy="-6.8" dx="0.9">2</tspan></text></g>
<polyline points="65.1,348.26 99.13,295.18 133.16,246.61 167.19,227.41 201.22,273.27 235.25,349.17" fill="none" stroke="#111" stroke-width="1.2" stroke-linejoin="round"/>
<circle cx="65.1" cy="348.26" r="3" fill="url(#sph)"/>
<circle cx="99.13" cy="295.18" r="3" fill="url(#sph)"/>
<circle cx="133.16" cy="246.61" r="3" fill="url(#sph)"/>
<circle cx="167.19" cy="227.41" r="3" fill="url(#sph)"/>
<circle cx="201.22" cy="273.27" r="3" fill="url(#sph)"/>
<circle cx="235.25" cy="349.17" r="3" fill="url(#sph)"/>
<line x1="314.1" y1="367.6" x2="314.1" y2="364.1" stroke="#262626" stroke-width="1.0"/>
<line x1="314.1" y1="210.5" x2="314.1" y2="214" stroke="#262626" stroke-width="1.0"/>
<line x1="371.93" y1="367.6" x2="371.93" y2="364.1" stroke="#262626" stroke-width="1.0"/>
<line x1="371.93" y1="210.5" x2="371.93" y2="214" stroke="#262626" stroke-width="1.0"/>
<line x1="429.76" y1="367.6" x2="429.76" y2="364.1" stroke="#262626" stroke-width="1.0"/>
<line x1="429.76" y1="210.5" x2="429.76" y2="214" stroke="#262626" stroke-width="1.0"/>
<line x1="487.59" y1="367.6" x2="487.59" y2="364.1" stroke="#262626" stroke-width="1.0"/>
<line x1="487.59" y1="210.5" x2="487.59" y2="214" stroke="#262626" stroke-width="1.0"/>
<line x1="343.02" y1="367.6" x2="343.02" y2="365.6" stroke="#262626" stroke-width="1.0"/>
<line x1="343.02" y1="210.5" x2="343.02" y2="212.5" stroke="#262626" stroke-width="1.0"/>
<line x1="400.85" y1="367.6" x2="400.85" y2="365.6" stroke="#262626" stroke-width="1.0"/>
<line x1="400.85" y1="210.5" x2="400.85" y2="212.5" stroke="#262626" stroke-width="1.0"/>
<line x1="458.68" y1="367.6" x2="458.68" y2="365.6" stroke="#262626" stroke-width="1.0"/>
<line x1="458.68" y1="210.5" x2="458.68" y2="212.5" stroke="#262626" stroke-width="1.0"/>
<line x1="307.3" y1="218.4" x2="310.5" y2="218.4" stroke="#262626" stroke-width="1.0"/>
<line x1="515.7" y1="218.4" x2="512.5" y2="218.4" stroke="#262626" stroke-width="1.0"/>
<line x1="307.3" y1="234.12" x2="310.5" y2="234.12" stroke="#262626" stroke-width="1.0"/>
<line x1="515.7" y1="234.12" x2="512.5" y2="234.12" stroke="#262626" stroke-width="1.0"/>
<line x1="307.3" y1="249.84" x2="310.5" y2="249.84" stroke="#262626" stroke-width="1.0"/>
<line x1="515.7" y1="249.84" x2="512.5" y2="249.84" stroke="#262626" stroke-width="1.0"/>
<line x1="307.3" y1="265.56" x2="310.5" y2="265.56" stroke="#262626" stroke-width="1.0"/>
<line x1="515.7" y1="265.56" x2="512.5" y2="265.56" stroke="#262626" stroke-width="1.0"/>
<line x1="307.3" y1="281.28" x2="310.5" y2="281.28" stroke="#262626" stroke-width="1.0"/>
<line x1="515.7" y1="281.28" x2="512.5" y2="281.28" stroke="#262626" stroke-width="1.0"/>
<line x1="307.3" y1="297" x2="310.5" y2="297" stroke="#262626" stroke-width="1.0"/>
<line x1="515.7" y1="297" x2="512.5" y2="297" stroke="#262626" stroke-width="1.0"/>
<line x1="307.3" y1="312.72" x2="310.5" y2="312.72" stroke="#262626" stroke-width="1.0"/>
<line x1="515.7" y1="312.72" x2="512.5" y2="312.72" stroke="#262626" stroke-width="1.0"/>
<line x1="307.3" y1="328.44" x2="310.5" y2="328.44" stroke="#262626" stroke-width="1.0"/>
<line x1="515.7" y1="328.44" x2="512.5" y2="328.44" stroke="#262626" stroke-width="1.0"/>
<line x1="307.3" y1="344.16" x2="310.5" y2="344.16" stroke="#262626" stroke-width="1.0"/>
<line x1="515.7" y1="344.16" x2="512.5" y2="344.16" stroke="#262626" stroke-width="1.0"/>
<line x1="307.3" y1="359.88" x2="310.5" y2="359.88" stroke="#262626" stroke-width="1.0"/>
<line x1="515.7" y1="359.88" x2="512.5" y2="359.88" stroke="#262626" stroke-width="1.0"/>
<line x1="307.3" y1="226.26" x2="309.1" y2="226.26" stroke="#262626" stroke-width="1.0"/>
<line x1="515.7" y1="226.26" x2="513.9" y2="226.26" stroke="#262626" stroke-width="1.0"/>
<line x1="307.3" y1="241.98" x2="309.1" y2="241.98" stroke="#262626" stroke-width="1.0"/>
<line x1="515.7" y1="241.98" x2="513.9" y2="241.98" stroke="#262626" stroke-width="1.0"/>
<line x1="307.3" y1="257.7" x2="309.1" y2="257.7" stroke="#262626" stroke-width="1.0"/>
<line x1="515.7" y1="257.7" x2="513.9" y2="257.7" stroke="#262626" stroke-width="1.0"/>
<line x1="307.3" y1="273.42" x2="309.1" y2="273.42" stroke="#262626" stroke-width="1.0"/>
<line x1="515.7" y1="273.42" x2="513.9" y2="273.42" stroke="#262626" stroke-width="1.0"/>
<line x1="307.3" y1="289.14" x2="309.1" y2="289.14" stroke="#262626" stroke-width="1.0"/>
<line x1="515.7" y1="289.14" x2="513.9" y2="289.14" stroke="#262626" stroke-width="1.0"/>
<line x1="307.3" y1="304.86" x2="309.1" y2="304.86" stroke="#262626" stroke-width="1.0"/>
<line x1="515.7" y1="304.86" x2="513.9" y2="304.86" stroke="#262626" stroke-width="1.0"/>
<line x1="307.3" y1="320.58" x2="309.1" y2="320.58" stroke="#262626" stroke-width="1.0"/>
<line x1="515.7" y1="320.58" x2="513.9" y2="320.58" stroke="#262626" stroke-width="1.0"/>
<line x1="307.3" y1="336.3" x2="309.1" y2="336.3" stroke="#262626" stroke-width="1.0"/>
<line x1="515.7" y1="336.3" x2="513.9" y2="336.3" stroke="#262626" stroke-width="1.0"/>
<line x1="307.3" y1="352.02" x2="309.1" y2="352.02" stroke="#262626" stroke-width="1.0"/>
<line x1="515.7" y1="352.02" x2="513.9" y2="352.02" stroke="#262626" stroke-width="1.0"/>
<rect x="307.3" y="210.5" width="208.4" height="157.1" fill="none" stroke="#262626" stroke-width="1.15"/>
<text x="314.1" y="380" font-size="11" text-anchor="middle" fill="#111" >0.0</text>
<text x="371.93" y="380" font-size="11" text-anchor="middle" fill="#111" >40.0n</text>
<text x="429.76" y="380" font-size="11" text-anchor="middle" fill="#111" >80.0n</text>
<text x="487.59" y="380" font-size="11" text-anchor="middle" fill="#111" >120.0n</text>
<text x="273.2" y="227" font-size="19" text-anchor="start" fill="#111" >(d)</text>
<text x="345.2" y="399.9" font-size="16" text-anchor="start" fill="#111" >Simulation time (s)</text>
<g transform="translate(287.9,316) rotate(-90)"><text x="0" y="0" font-size="16" fill="#111">M<tspan font-size="10" dy="5" dx="0.8">x</tspan><tspan dy="-4.2" dx="-0.5" font-size="16.7">(a. u.)</tspan></text></g>
<g transform="translate(337.4,356.6) scale(1.075,1)"><text x="0" y="0" font-size="13.5" fill="#111">r<tspan font-size="8.5" dy="7" dx="0.5">e</tspan><tspan dy="-7" dx="0.6">=15.8 nm</tspan></text></g>
<g transform="translate(421.9,356.1) scale(1.075,1)"><text x="0" y="0" font-size="13.5" fill="#111">J=5*10<tspan font-size="8.5" dy="-6.8" dx="0.9">8</tspan><tspan dy="6.8" dx="0.5"> A/m</tspan><tspan font-size="8.5" dy="-6.8" dx="0.9">2</tspan></text></g>
<path d="M313.8,342 C314.32,341.72 315.95,340.38 316.9,340.3 C317.85,340.22 318.63,341.38 319.5,341.5 C320.37,341.62 321.08,341.35 322.1,341 C323.12,340.65 324.58,339.75 325.6,339.4 C326.62,339.05 327.2,339.57 328.2,338.9 C329.2,338.23 330.45,336.85 331.6,335.4 C332.75,333.95 333.93,332.5 335.1,330.2 C336.27,327.9 337.45,324.48 338.6,321.6 C339.75,318.72 340.85,316.37 342,312.9 C343.15,309.43 344.33,304.98 345.5,300.8 C346.67,296.62 347.98,291.27 349,287.8 C350.02,284.33 350.78,283.12 351.6,280 C352.42,276.88 352.95,273.5 353.9,269.1 C354.85,264.7 356.15,258.35 357.3,253.6 C358.45,248.85 359.65,244.28 360.8,240.6 C361.95,236.92 363.05,234.17 364.2,231.5 C365.35,228.83 366.4,226.38 367.7,224.6 C369,222.82 370.7,221.33 372,220.8 C373.3,220.27 374.33,220.65 375.5,221.4 C376.67,222.15 377.85,223.4 379,225.3 C380.15,227.2 381.25,229.82 382.4,232.8 C383.55,235.78 384.73,239.3 385.9,243.2 C387.07,247.1 388.25,251.88 389.4,256.2 C390.55,260.52 391.8,264.8 392.8,269.1 C393.8,273.4 394.5,278.02 395.4,282 C396.3,285.98 397.17,289 398.2,293 C399.23,297 400.45,301.82 401.6,306 C402.75,310.18 403.93,314.35 405.1,318.1 C406.27,321.85 407.45,325.47 408.6,328.5 C409.75,331.53 410.85,334.28 412,336.3 C413.15,338.32 414.48,339.82 415.5,340.6 C416.52,341.38 417.08,341.43 418.1,341 C419.12,340.57 420.45,339.65 421.6,338 C422.75,336.35 423.85,334.13 425,331.1 C426.15,328.07 427.35,323.98 428.5,319.8 C429.65,315.62 430.75,310.62 431.9,306 C433.05,301.38 434.23,296.43 435.4,292.1 C436.57,287.77 437.63,283.83 438.9,280 C440.17,276.17 441.73,273.37 443,269.1 C444.27,264.83 445.35,259.02 446.5,254.4 C447.65,249.78 448.75,245.25 449.9,241.4 C451.05,237.55 452.25,234.12 453.4,231.3 C454.55,228.48 455.45,226.28 456.8,224.5 C458.15,222.72 459.97,220.92 461.5,220.6 C463.03,220.28 464.62,221.4 466,222.6 C467.38,223.8 468.58,225.38 469.8,227.8 C471.02,230.22 472.13,233.67 473.3,237.1 C474.47,240.53 475.65,244.07 476.8,248.4 C477.95,252.73 479.08,257.8 480.2,263.1 C481.32,268.4 482.47,275.65 483.5,280.2 C484.53,284.75 485.35,286.1 486.4,290.4 C487.45,294.7 488.65,301.1 489.8,306 C490.95,310.9 492.13,315.77 493.3,319.8 C494.47,323.83 495.65,327.3 496.8,330.2 C497.95,333.1 499.05,335.47 500.2,337.2 C501.35,338.93 502.68,339.88 503.7,340.6 C504.72,341.32 505.87,341.35 506.3,341.5" fill="none" stroke="#f00" stroke-width="2" stroke-linejoin="round"/>
</svg></body></html>
